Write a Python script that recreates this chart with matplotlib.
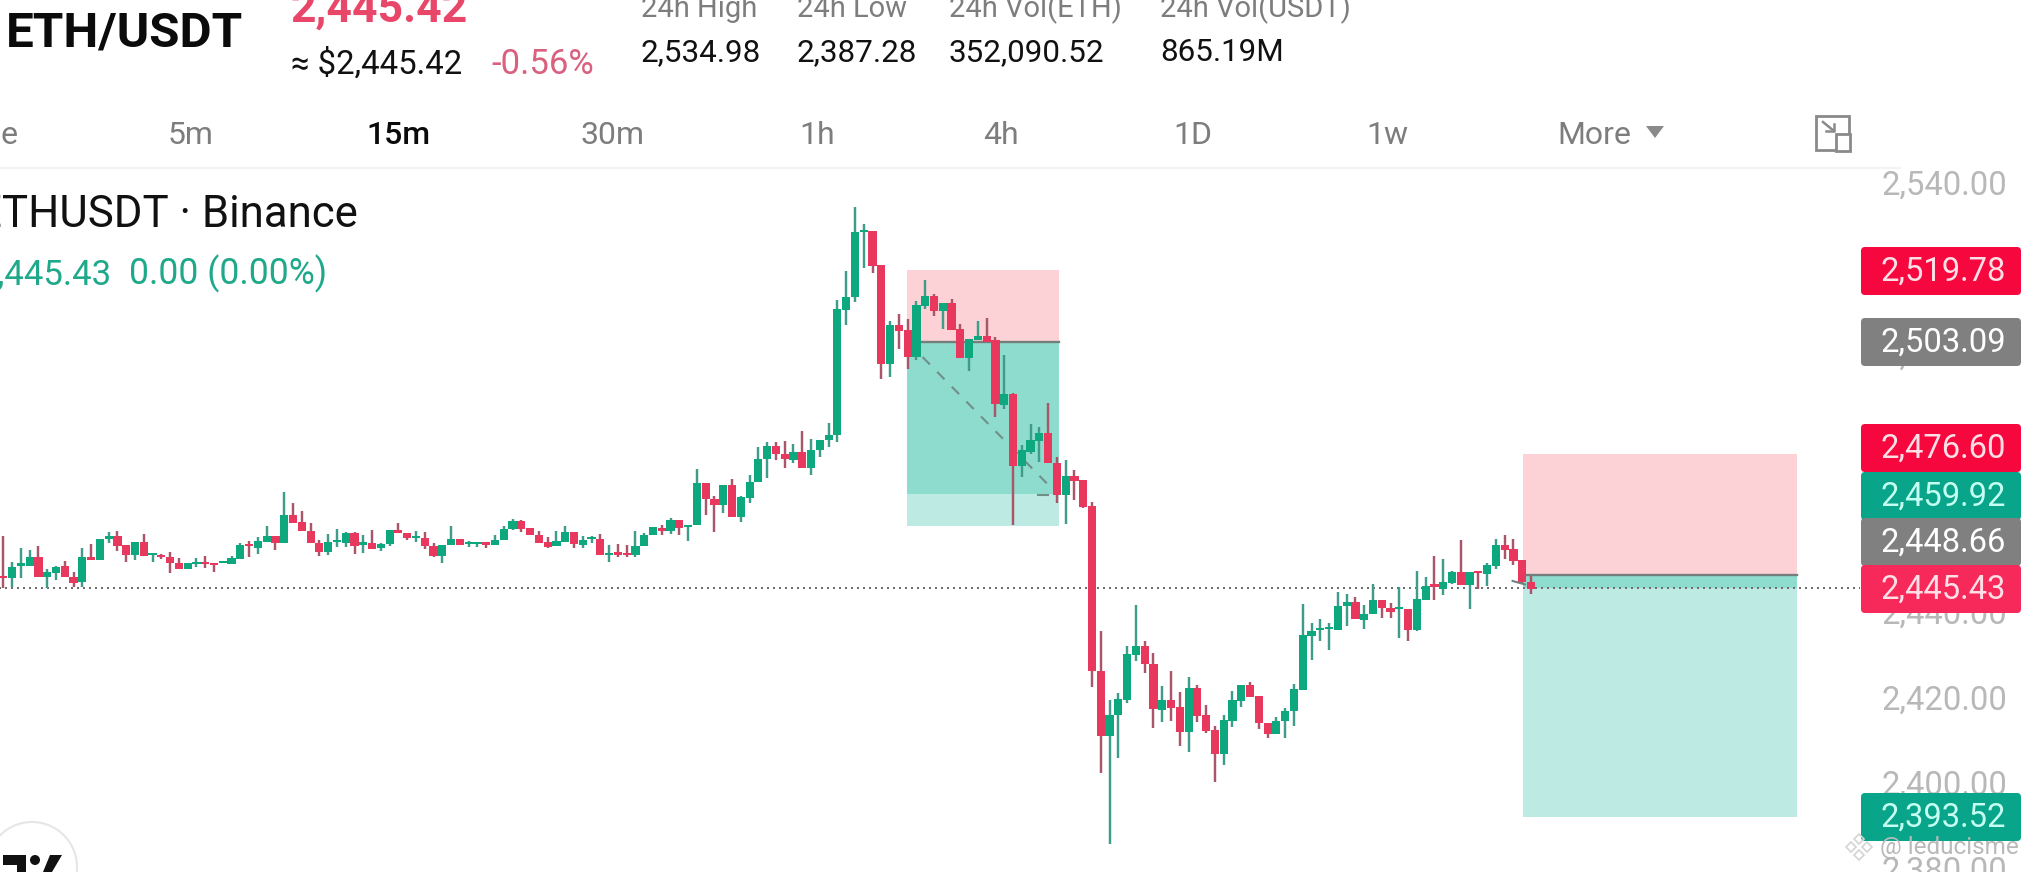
import numpy as np
import matplotlib
matplotlib.use("Agg")
import matplotlib.pyplot as plt
from matplotlib.patches import FancyBboxPatch, Circle, Polygon, Rectangle

plt.rcParams["font.family"] = ["Roboto", "DejaVu Sans"]

opens = [2448.1,2447.6,2450.6,2450.6,2452.7,2448.0,2448.9,2450.4,2447.9,2446.7,
         2452.7,2452.0,2456.7,2457.5,2455.3,2453.1,2456.1,2453.0,2453.0,2452.5,
         2451.3,2449.9,2451.0,2451.4,2451.0,2451.1,2451.0,2452.2,2455.5,2454.7,
         2456.2,2457.4,2455.9,2462.3,2460.7,2458.6,2455.9,2453.8,2456.0,2455.9,
         2458.2,2455.5,2455.8,2454.6,2455.7,2458.8,2458.1,2456.9,2456.9,2455.2,
         2452.9,2455.5,2456.7,2455.6,2455.6,2455.9,2455.5,2456.5,2459.1,2461.0,
         2459.3,2457.8,2456.1,2455.1,2456.2,2458.4,2455.5,2456.8,2456.7,2453.0,
         2453.7,2453.5,2453.1,2455.1,2457.7,2459.4,2458.7,2461.2,2459.6,2460.1,
         2469.8,2466.0,2464.7,2469.3,2461.8,2466.4,2470.0,2475.4,2478.5,2476.5,
         2475.3,2477.0,2473.4,2477.5,2479.8,2481.0,2510.1,2513.1,2528.4,2528.5,
         2520.6,2497.6,2506.6,2505.5,2499.3,2511.1,2513.5,2510.0,2511.7,2505.7,
         2499.0,2503.2,2504.2,2503.1,2488.0,2490.6,2473.9,2477.1,2479.7,2481.6,
         2474.5,2467.0,2471.5,2470.5,2464.5,2425.9,2410.9,2415.8,2419.3,2429.7,
         2431.8,2427.6,2416.9,2419.3,2417.6,2411.9,2422.0,2415.8,2412.3,2406.7,
         2414.4,2419.1,2422.7,2420.3,2413.8,2411.3,2414.3,2416.8,2421.6,2434.2,
         2435.5,2435.7,2435.6,2441.1,2442.0,2438.0,2439.2,2442.6,2440.7,2440.4,
         2440.4,2435.6,2442.6,2446.0,2445.1,2446.6,2449.1,2446.1,2449.2,2448.7,
         2450.6,2455.3,2454.4,2451.9,2446.8]
closes = [2447.6,2450.2,2450.9,2452.7,2448.0,2449.1,2450.3,2447.9,2446.6,2452.7,
          2451.9,2456.7,2457.5,2455.2,2453.1,2456.1,2452.9,2453.2,2452.6,2451.3,
          2449.9,2451.1,2451.3,2451.0,2450.7,2451.3,2452.3,2455.3,2455.2,2456.3,
          2457.4,2455.9,2462.3,2460.4,2458.6,2455.9,2453.8,2456.0,2456.3,2458.2,
          2455.2,2455.8,2454.5,2455.7,2458.8,2458.2,2456.9,2457.2,2455.2,2452.8,
          2455.5,2456.7,2455.5,2455.9,2455.9,2455.5,2456.5,2459.1,2461.0,2459.1,
          2457.7,2455.9,2454.9,2456.3,2458.4,2455.6,2456.6,2457.1,2453.0,2453.6,
          2453.1,2453.1,2455.2,2457.7,2459.5,2458.7,2461.2,2459.4,2460.1,2469.8,
          2466.0,2464.6,2469.4,2461.8,2466.6,2470.0,2475.4,2478.5,2476.5,2475.4,
          2477.1,2473.3,2477.5,2479.8,2481.0,2510.3,2513.1,2528.3,2528.7,2520.5,
          2497.6,2506.6,2505.3,2499.3,2511.3,2513.5,2510.0,2511.7,2505.5,2499.0,
          2503.5,2504.2,2502.7,2488.3,2490.6,2473.8,2477.5,2479.9,2481.4,2474.4,
          2467.0,2471.4,2470.3,2464.2,2425.9,2410.9,2415.8,2419.4,2430.0,2431.8,
          2427.6,2417.1,2419.3,2417.5,2411.9,2422.0,2415.6,2412.0,2406.7,2414.6,
          2419.3,2422.7,2420.0,2413.8,2411.3,2414.3,2416.8,2421.8,2434.4,2435.3,
          2435.8,2436.0,2441.2,2442.0,2438.1,2439.2,2442.6,2440.6,2439.8,2440.6,
          2435.6,2442.8,2445.8,2445.7,2446.7,2449.1,2446.1,2449.0,2448.9,2450.7,
          2455.3,2454.3,2451.7,2446.8,2445.1]
highs = [2457.5,2451.5,2454.6,2454.2,2455.2,2449.7,2450.5,2451.6,2449.2,2454.7,
         2455.6,2456.8,2458.4,2458.7,2455.3,2456.2,2458.0,2453.3,2453.4,2453.7,
         2452.3,2451.1,2452.4,2452.8,2451.1,2451.3,2452.9,2455.8,2456.4,2457.2,
         2459.7,2457.4,2467.7,2465.1,2463.3,2460.4,2456.6,2458.0,2459.0,2458.3,
         2458.3,2457.6,2458.9,2455.8,2458.9,2460.4,2458.2,2458.6,2458.3,2455.8,
         2455.5,2459.8,2456.7,2456.4,2456.1,2456.2,2457.6,2459.8,2461.4,2461.1,
         2459.3,2458.7,2457.2,2458.7,2459.8,2458.4,2457.5,2457.5,2457.9,2455.3,
         2455.6,2455.3,2458.7,2458.1,2459.5,2460.0,2461.6,2461.2,2460.1,2473.0,
         2469.8,2466.9,2469.4,2470.7,2466.7,2471.7,2478.2,2479.3,2479.3,2479.6,
         2478.9,2482.0,2480.0,2479.8,2483.8,2512.5,2519.2,2534.1,2530.2,2528.5,
         2520.6,2507.6,2509.2,2508.0,2512.3,2517.1,2514.0,2511.7,2512.8,2507.0,
         2503.5,2507.6,2508.2,2503.9,2499.7,2490.7,2478.7,2483.5,2482.8,2488.4,
         2475.8,2475.2,2472.9,2470.5,2465.5,2435.3,2419.3,2420.8,2431.8,2441.4,
         2433.0,2430.1,2422.5,2425.9,2421.1,2424.5,2422.7,2418.1,2413.2,2415.8,
         2421.4,2422.7,2423.4,2420.3,2414.0,2415.2,2417.5,2423.0,2441.6,2437.1,
         2438.1,2437.1,2444.4,2443.9,2443.2,2441.4,2446.2,2442.6,2441.8,2445.5,
         2440.4,2449.3,2448.0,2452.8,2452.1,2449.3,2456.5,2449.0,2449.2,2451.3,
         2456.7,2457.7,2456.7,2452.0,2448.2]
lows = [2445.3,2445.7,2447.6,2450.5,2448.0,2445.4,2447.2,2447.9,2445.7,2445.5,
        2451.9,2452.0,2455.8,2454.1,2451.4,2451.9,2452.9,2451.5,2452.1,2448.8,
        2449.9,2449.9,2450.3,2450.0,2449.2,2451.1,2451.0,2452.2,2452.5,2453.3,
        2456.2,2454.2,2455.9,2460.4,2458.6,2455.9,2452.8,2453.1,2455.0,2455.0,
        2453.3,2453.6,2454.5,2454.1,2455.2,2458.2,2456.6,2456.2,2454.4,2452.7,
        2451.3,2455.5,2455.5,2455.0,2455.0,2454.8,2455.5,2456.5,2458.9,2458.4,
        2457.7,2455.9,2454.8,2455.1,2456.2,2454.8,2454.6,2455.8,2453.0,2451.5,
        2452.7,2452.5,2452.5,2455.1,2457.7,2457.8,2457.9,2457.6,2456.4,2460.1,
        2462.4,2458.4,2462.8,2461.8,2460.8,2465.1,2470.0,2470.9,2475.1,2473.4,
        2474.4,2473.3,2471.8,2476.0,2478.3,2479.3,2506.7,2512.1,2519.9,2518.8,
        2494.1,2494.6,2501.1,2496.5,2498.5,2510.5,2508.7,2505.8,2505.5,2499.0,
        2496.0,2503.2,2502.7,2485.3,2487.2,2460.1,2471.3,2476.6,2474.8,2474.4,
        2465.1,2460.3,2465.9,2463.9,2422.2,2402.3,2385.6,2405.7,2418.5,2428.4,
        2425.6,2412.8,2414.2,2414.4,2408.5,2407.2,2414.2,2411.5,2400.2,2404.0,
        2412.9,2417.7,2420.0,2412.6,2410.5,2411.3,2410.5,2413.3,2421.6,2428.6,
        2433.1,2430.8,2435.6,2436.6,2438.1,2435.8,2439.2,2438.4,2438.4,2433.6,
        2433.1,2435.4,2442.6,2442.6,2443.7,2446.3,2446.1,2440.5,2445.1,2445.9,
        2449.7,2452.1,2450.7,2446.4,2443.9]

price_ticks = [2380, 2400, 2420, 2440, 2460, 2480, 2500, 2520, 2540]
last_price = 2445.43

# position tools: start, end, stop, entry, split of the teal part, target
box_start = [102.9, 173.1]
box_end = [120.2, 204.3]
box_stop = [2519.5, 2476.6]
box_entry = [2502.7, 2448.3]
box_split = [2467.3, 2445.43]
box_target = [2459.9, 2392.0]

path_x = [104.7, 119.6]
path_y = [2499.2, 2468.2]

tabs = ["e", "5m", "15m", "30m", "1h", "4h", "1D", "1w", "More"]
tab_x = [0, 168, 366, 581, 799, 983, 1173, 1366, 1557]
stat_names = ["24h High", "24h Low", "24h Vol(ETH)", "24h Vol(USDT)"]
stat_values = ["2,534.98", "2,387.28", "352,090.52", "865.19M"]
stat_x = [641, 797, 949, 1160]

pill_text = ["2,519.78", "2,503.09", "2,476.60", "2,459.92", "2,448.66", "2,445.43", "2,393.52"]
pill_y = [271, 342, 448, 496, 542, 589, 817]
pill_col = ["#f6083f", "#808080", "#f6083f", "#08a58a", "#808080", "#f7285a", "#08a58a"]
pill_txt = ["#ffdfe6", "#ffffff", "#ffdfe6", "#c4fff2", "#ffffff", "#ffdfe6", "#c4fff2"]

W, H = 2029, 872
UP = "#0da87e"
DOWN = "#e8385d"

fig = plt.figure(figsize=(W / 100, H / 100), dpi=100, facecolor="white")

# chart part: pixel 3.3 + 8.78 * i, pixel 182 = 2540, 4.29 px per unit
top_px = 170
ax = fig.add_axes([0, 0, 1, (H - top_px) / H])
ax.set_xlim(-3.3 / 8.78, (W - 3.3) / 8.78)
ax.set_ylim(2540 - (H - 182) / 4.29, 2540 + (182 - top_px) / 4.29)
for s in ax.spines.values():
    s.set_visible(False)
ax.set_xticks([])
ax.yaxis.tick_right()
ax.set_yticks(price_ticks)
ax.set_yticklabels([f"{p:,.2f}" for p in price_ticks])
ax.tick_params(axis="y", length=0, pad=-106, labelsize=23.6, labelcolor="#b8b8b8")

for i in range(2):
    w = box_end[i] - box_start[i]
    ax.add_patch(Rectangle((box_start[i], box_entry[i]), w, box_stop[i] - box_entry[i], fc="#fdd2d6", ec="none", zorder=1))
    ax.add_patch(Rectangle((box_start[i], box_split[i]), w, box_entry[i] - box_split[i], fc="#8edccd", ec="none", zorder=1))
    ax.add_patch(Rectangle((box_start[i], box_target[i]), w, box_split[i] - box_target[i], fc="#bdeae3", ec="none", zorder=1))
    ax.plot([box_start[i], box_end[i]], [box_entry[i], box_entry[i]], color="#747f7d", lw=1.7, zorder=1.5)

ax.plot(path_x, path_y, color="#6f8f88", lw=1.5, ls=(0, (5, 5)), zorder=1.6)
ax.plot([117.8, 119.0], [2467.0, 2467.0], color="#6f8f88", lw=1.5, zorder=1.6)
ax.plot([171.9, 173.3], [2447.0, 2446.2], color="#6f7f7d", lw=1.5, zorder=3.5)

ax.plot([-1, 211.5], [last_price, last_price], color="#6e6e6e", lw=1.44, ls=(0, (1, 2)), zorder=2)

x = np.arange(len(opens))
o = np.array(opens)
c = np.array(closes)
up = c >= o
wick_col = ["#3f9c8b" if u else "#a9566b" for u in up]
body_col = [UP if u else DOWN for u in up]
ax.vlines(x, lows, highs, colors=wick_col, lw=1.75, zorder=3)
ax.bar(x, np.maximum(np.abs(c - o), 0.5), bottom=np.minimum(o, c), width=0.93, color=body_col, zorder=4)

# header, pills and logo go in a pixel overlay
ui = fig.add_axes([0, 0, 1, 1], facecolor="none")
ui.set_xlim(0, W)
ui.set_ylim(H, 0)
ui.axis("off")

ui.text(6, 46, "ETH/USDT", fontsize=35.6, fontweight="bold", color="#0b0b0b", va="baseline")
ui.text(291, 22, "2,445.42", fontsize=32, fontweight="bold", color="#e8476a", va="baseline")
ui.text(291, 74, "≈ $2,445.42", fontsize=23.7, color="#111111", va="baseline")
ui.text(491, 74, "-0.56%", fontsize=25, color="#d9607e", va="baseline")

for n, v, sx in zip(stat_names, stat_values, stat_x):
    ui.text(sx, 17, n, fontsize=21, color="#7d7d7d", va="baseline")
    ui.text(sx, 61, v, fontsize=22.6, color="#111111", va="baseline")

for t, tx in zip(tabs, tab_x):
    col = "#0b0b0b" if t == "15m" else "#7d7d7d"
    ui.text(tx, 144, t, fontsize=23, color=col, va="baseline", fontweight="medium" if t == "15m" else "normal")

ui.add_patch(Polygon([[1646, 126], [1664, 126], [1655, 138]], fc="#8a8a8a", ec="none"))
ui.add_patch(Rectangle((1816, 116), 33, 34, fc="none", ec="#8a8a8a", lw=2))
ui.add_patch(Rectangle((1836, 134), 14, 17, fc="white", ec="#8a8a8a", lw=2))
ui.plot([1823, 1834], [122, 131], color="#8a8a8a", lw=1.8)
ui.plot([1834, 1834, 1826], [124, 131, 131], color="#8a8a8a", lw=1.8)
ui.plot([0, 1900], [168, 168], color="#f3f3f3", lw=1.5)

ui.text(358, 227, "ETHUSDT · Binance", fontsize=31.5, color="#111111", ha="right", va="baseline")
ui.text(111, 284, "2,445.43", fontsize=25, color="#1fa98a", ha="right", va="baseline")
ui.text(129, 284, "0.00 (0.00%)", fontsize=25.6, color="#1fa98a", va="baseline")

for t, py, pc, tc in zip(pill_text, pill_y, pill_col, pill_txt):
    ui.add_patch(FancyBboxPatch((1864, py - 21), 154, 42, boxstyle="round,pad=3,rounding_size=4", fc=pc, ec="none", zorder=5))
    ui.text(1881, py + 1, t, fontsize=23.6, color=tc, va="center", zorder=6)

# watermark
ui.text(1880, 847, "@ leducisme", fontsize=17.5, color="#b9b9b9", va="center", zorder=7)
for dx, dy in [(0, -8), (0, 8), (-8, 0), (8, 0)]:
    ui.plot(1859 + dx, 847 + dy, marker="D", ms=5, mfc="none", mec="#d4d4d4", mew=1.2, zorder=7)

# tradingview badge, cut by the bottom edge
ui.add_patch(Circle((32, 867), 45, fc="white", ec="#e6e6e6", lw=1.5))
ui.add_patch(Polygon([[3, 855], [26, 855], [26, 872], [17, 872], [17, 865], [3, 865]], fc="#111111", ec="none"))
ui.add_patch(Circle((35, 860), 5, fc="#111111", ec="none"))
ui.add_patch(Polygon([[50, 855], [62, 855], [52, 872], [43, 872]], fc="#111111", ec="none"))

fig.savefig("out.png", dpi=100)
